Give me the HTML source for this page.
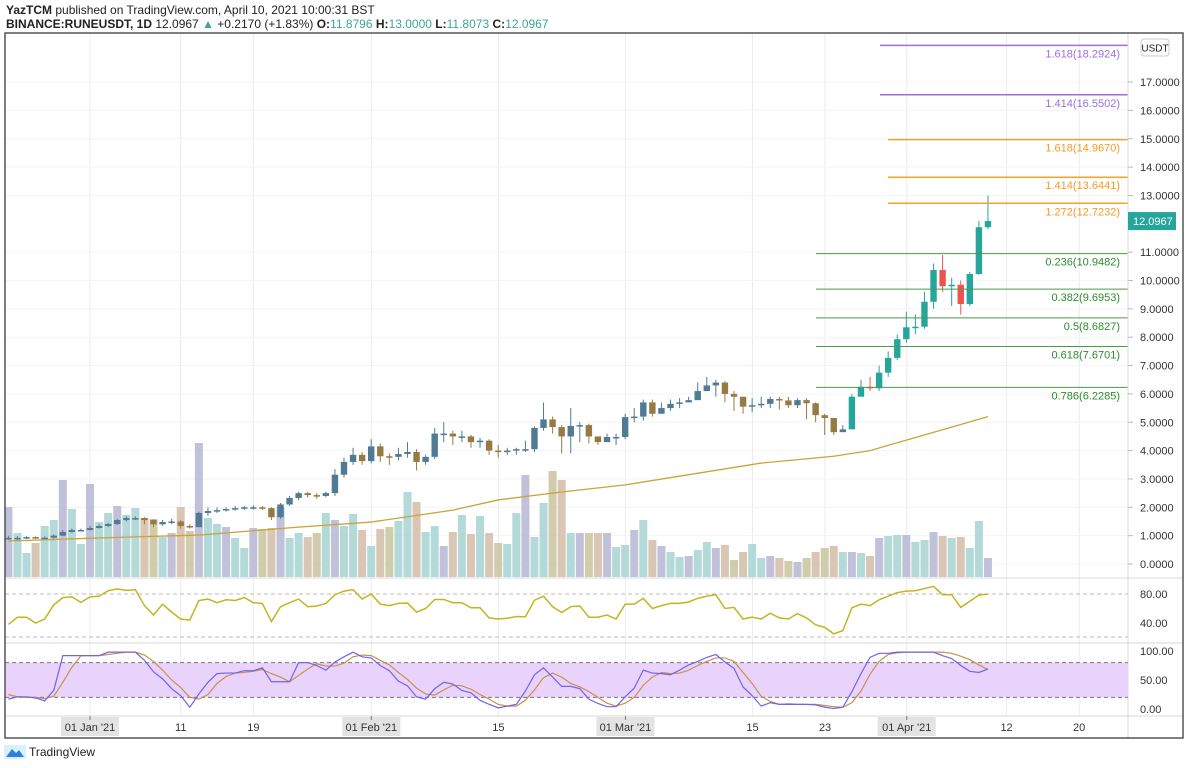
<!DOCTYPE html>
<html><head><meta charset="utf-8">
<style>
body{margin:0;width:1186px;height:768px;background:#fff;overflow:hidden;font-family:"Liberation Sans",sans-serif;}
#hdr1{position:absolute;left:6px;top:3px;font-size:12px;color:#222;}
#hdr2{position:absolute;left:6px;top:17px;font-size:12px;color:#222;}
.v{color:#3fa597}
#foot{position:absolute;left:4px;top:745px;font-size:12px;color:#222;display:flex;align-items:center;}
svg{position:absolute;left:0;top:0;}
</style></head><body>
<div id="hdr1"><b>YazTCM</b> published on TradingView.com, April 10, 2021 10:00:31 BST</div>
<div id="hdr2"><b>BINANCE:RUNEUSDT, 1D</b> 12.0967 <span class="v">▲</span> +0.2170 (+1.83%) <b>O:</b><span class="v">11.8796</span> <b>H:</b><span class="v">13.0000</span> <b>L:</b><span class="v">11.8073</span> <b>C:</b><span class="v">12.0967</span></div>
<svg id="chart" width="1186" height="768"></svg>
<div id="foot"><svg width="22" height="14" style="position:static;margin-right:3px" viewBox="0 0 22 14"><rect x="0" y="0" width="22" height="14" fill="#d9f1fb"/><path d="M2 12 L8 4 L12 8 L15 5 L20 12 Z" fill="#2f7ee0"/></svg>TradingView</div>
<script>
const closes=[0.92,0.92,0.95,0.93,0.93,1.0,1.13,1.2,1.2,1.27,
1.34,1.41,1.55,1.62,1.62,1.55,1.4,1.48,1.5,1.34,
1.3,1.8,1.87,1.9,1.94,1.97,2.0,2.0,1.97,1.65,
2.1,2.33,2.5,2.43,2.4,2.5,3.15,3.6,3.85,3.63,
4.15,3.8,3.78,3.88,3.95,3.6,3.78,4.6,4.6,4.5,
4.5,4.3,4.35,4.0,3.95,4.0,4.05,4.05,4.8,5.1,
4.83,4.5,4.87,4.9,4.5,4.3,
4.48,4.48,5.18,5.2,5.7,5.3,5.5,5.65,5.7,5.78,
6.1,6.3,6.4,6.0,5.9,5.55,5.6,5.65,5.82,5.77,
5.6,5.78,5.67,5.25,5.15,4.65,4.75,5.9,6.25,6.2,
6.75,7.27,7.93,8.35,8.37,9.25,10.37,9.8,9.85,9.17,
10.23,11.8796,12.0967];
const highs=[1.0,0.98,0.98,0.97,0.97,1.05,1.2,1.25,1.25,1.35,
1.4,1.45,1.6,1.68,1.68,1.65,1.58,1.55,1.6,1.55,
1.4,1.85,2.0,2.0,2.0,2.05,2.05,2.07,2.05,2.0,
2.15,2.4,2.55,2.55,2.5,2.55,3.35,3.75,4.1,3.95,
4.4,4.25,3.9,4.1,4.3,4.05,3.85,4.8,5.0,4.7,
4.7,4.55,4.45,4.4,4.2,4.1,4.1,4.35,4.85,5.7,
5.2,4.9,5.5,5.0,4.95,4.5,
4.6,4.6,5.3,5.5,5.8,5.8,5.7,5.8,5.85,5.9,
6.4,6.6,6.5,6.45,6.1,5.85,5.85,5.9,5.9,5.9,
5.9,5.85,5.85,5.7,5.3,5.0,4.9,6.0,6.5,6.6,
7.0,7.5,8.1,8.9,8.8,9.6,10.6,10.9,10.1,10.0,
10.3,12.1,13.0];
const lows=[0.85,0.85,0.88,0.88,0.88,0.9,0.98,1.1,1.15,1.18,
1.25,1.3,1.38,1.5,1.55,1.4,1.3,1.35,1.4,1.25,
1.25,1.3,1.7,1.8,1.85,1.88,1.9,1.92,1.9,1.55,
1.6,2.05,2.25,2.35,2.3,2.35,2.4,3.05,3.5,3.5,
3.55,3.6,3.5,3.65,3.75,3.3,3.5,3.7,4.3,4.2,
4.3,4.1,4.1,3.85,3.75,3.85,3.85,3.95,3.95,4.7,
4.6,3.9,3.9,4.3,4.25,4.2,
4.3,4.2,4.4,5.0,5.05,5.2,5.3,5.4,5.5,5.7,
5.9,6.1,5.9,5.7,5.4,5.3,5.35,5.5,5.5,5.45,
5.5,5.5,5.1,5.0,4.55,4.55,4.7,5.7,6.0,6.1,
6.1,6.6,7.2,7.8,8.1,8.3,9.0,9.6,9.1,8.8,
9.1,10.2,11.8];
const volumes=[70,44,24,34,51,57,97,68,33,93,
55,64,71,62,69,59,58,40,44,70,
46,134,59,53,50,39,29,49,48,49,
70,39,44,40,44,64,57,51,63,47,
31,48,50,56,85,75,45,51,31,45,
62,43,61,44,34,33,64,102,40,74,
106,97,44,44,44,
44,44,30,32,47,57,37,31,25,20,
21,27,35,29,32,17,25,33,19,21,
19,16,15,19,25,29,31,25,25,24,
21,39,41,42,42,35,37,45,41,39,
40,29,56,19];
const maIdx=[0,10,21,32,40,49,54,61,68,83,91,95,99,104,108];
const maVal=[0.81,0.92,1.02,1.3,1.48,1.9,2.26,2.54,2.79,3.56,3.8,4.0,4.37,4.83,5.2];
const rsi=[38,48,48,40,45.5,65,75,76,68.5,76,
77,84.5,87,85,86,64,51,66,55,45.5,
44,71,73,68,72,71,75,68,67,42,
62.5,68,73,62.5,63.5,67,79,84,86,73,
80,66,64,67,67.5,55,60,72.5,72.5,68,
68,61,61,47,45.5,46.5,49,48.5,71.5,77,
62.5,54.5,62.5,63.5,48,48,51,45.5,66,66,
74,60,64,67,67,69,74,77,79,60,
61.5,45.5,48,45.5,53.5,47,45.5,53,47,37.5,
34,25,29.5,61,66,64,72,77,82,84,
84.5,87.5,90.5,79,79,61.5,70,78.5,80];
const stochK=[17,21,21,19,14,32,92,92,92,92,
92,98,98,98,98,84,64,52,35,23,
3,26,46,61,62,62,66,66,71,47,
47,47,80,80,75,67,81,90,98,90,
88,75,66,48,40,21,17,35,46,43,
32,28,15,8,2,5,8,31,59,71,
55,39,39,35,17,9.5,4,4,21,36,
67,62,61,59,67,76,82,89,94,81,
70,38,23,5,11,8,8,8,8,7,
3,1,3,30,61,89,96,96,98,98,
98,98,98,92,87,75,65,63,69];
const stochD=[25,21,20,20,18,22,46,72,92,92,
92,94,96,98,98,93,82,67,50,37,
20,17,25,44,56,62,63,65,68,61,
55,47,58,69,78,74,74,79,90,93,
92,84,76,63,51,36,26,24,33,41,
40,34,25,17,8,5,5,15,33,54,
62,55,44,38,30,20,10,5,10,20,
41,55,63,61,62,67,75,82,88,88,
82,63,44,22,13,8,9,8,8,8,
6,4,3,11,31,60,82,94,97,98,
98,98,98,98,96,91,85,76,68];
const priceTicks=[17,16,15,14,13,11,10,9,8,7,6,5,4,3,2,1,0];
const fibLevels=[18.2924,16.5502,14.9670,13.6441,12.7232,10.9482,9.6953,8.6827,7.6701,6.2285];
const fibRatios=["1.618","1.414","1.618","1.414","1.272","0.236","0.382","0.5","0.618","0.786"];
const fibGroup=["p","p","o","o","o","g","g","g","g","g"];
const dateLabels=["01 Jan '21","11","19","01 Feb '21","15","01 Mar '21","15","23","01 Apr '21","12","20"];
const dateDays=[0,10,18,31,45,59,73,81,90,101,109];
const dateBoxed=[1,0,0,1,0,1,0,0,1,0,0];
const rsiTicks=[80,40];
const stochTicks=[100,50,0];

const svg=document.getElementById('chart');
const NS='http://www.w3.org/2000/svg';
function mk(tag,attrs,parent){const e=document.createElementNS(NS,tag);for(const k in attrs)e.setAttribute(k,attrs[k]);(parent||svg).appendChild(e);return e;}
const L=5,R=1128,FR=1183,T=33,B=738;
const xIdx=i=>8.4+i*9.07;
const xDay=d=>90+d*9.075;
const yP=v=>564-v*28.35;
const yV=v=>577-v*1.0;
const yR=v=>594+(80-v)*0.725;
const yS=v=>709-v*0.58;

for(let j=0;j<dateDays.length;j++){const g=mk('line',{x1:xDay(dateDays[j]),x2:xDay(dateDays[j]),y1:T,y2:716,stroke:'#ececec','stroke-width':1});

}
for(const t of priceTicks){const g=mk('line',{x1:L,x2:R,y1:yP(t),y2:yP(t),stroke:'#f4f4f4','stroke-width':1});

}

for(let i=0;i<volumes.length;i++){const up=i===0||closes[i]>=closes[i-1];
const r=mk('rect',{x:xIdx(i)-4,y:yV(volumes[i]),width:8,height:volumes[i],fill:up?(i%3===0?'#b7b6d3':'#a6d4d2'):(i%2?'#d4bca7':'#c9c39c'),'fill-opacity':0.85});

}

let d='';
for(let k=0;k<maIdx.length;k++)d+=(k?'L':'M')+xIdx(maIdx[k])+' '+yP(maVal[k]);
const ma=mk('path',{d:d,fill:'none',stroke:'#c9a43a','stroke-width':1.3});



for(let i=0;i<closes.length;i++){const o=i===0?closes[0]-0.01:closes[i-1],c=closes[i];const up=c>=o;const bright=i>=93;
const col=bright?(up?'#26a69a':'#ef5350'):(up?'#4f7b95':'#957a42');
const w=mk('line',{x1:xIdx(i),x2:xIdx(i),y1:yP(highs[i]),y2:yP(lows[i]),stroke:col,'stroke-width':1});


const top=yP(Math.max(o,c)),h=Math.max(1.5,Math.abs(yP(o)-yP(c)));
const b=mk('rect',{x:xIdx(i)-3.2,y:top,width:6.4,height:h,fill:col});

}

const fcol={p:'#9c6fdc',o:'#f7a126',g:'#4a9a4a'},fstart={p:880,o:888,g:816},ftxt={p:'#9c6fdc',o:'#f59a23',g:'#2e8b2e'};
for(let k=0;k<fibLevels.length;k++){const y=yP(fibLevels[k]),gp=fibGroup[k];
const ln=mk('line',{x1:fstart[gp],x2:R,y1:y,y2:y,stroke:fcol[gp],'stroke-width':gp==='g'?1:1.5});


const t=mk('text',{x:1120,y:y+12,'text-anchor':'end','font-size':11,fill:ftxt[gp]});
t.textContent=fibRatios[k]+'('+fibLevels[k].toFixed(4)+')';

}

for(const y of [578,643,716]){const s=mk('line',{x1:L,x2:FR,y1:y,y2:y,stroke:'#d8d8d8','stroke-width':1});

}
const ax=mk('line',{x1:R,x2:R,y1:T,y2:B,stroke:'#d8d8d8','stroke-width':1});



for(const t of priceTicks){const tx=mk('text',{x:1140,y:yP(t)+4,'font-size':11,fill:'#333'});tx.textContent=t.toFixed(4);


const tk=mk('line',{x1:R,x2:R+5,y1:yP(t),y2:yP(t),stroke:'#bbb'});

}
const ub=mk('rect',{x:1141,y:39,width:28,height:17,rx:3,fill:'#fff',stroke:'#ccc'});


const ut=mk('text',{x:1155,y:51.5,'text-anchor':'middle','font-size':10,fill:'#222'});ut.textContent='USDT';


const last=closes[closes.length-1];
const pb=mk('rect',{x:R,y:yP(last)-9,width:48,height:18,fill:'#26a69a'});


const pt=mk('text',{x:R+5,y:yP(last)+4,'font-size':11,fill:'#fff'});pt.textContent=last.toFixed(4);



for(const y of [594,637]){const l=mk('line',{x1:L,x2:R,y1:y,y2:y,stroke:'#bbb','stroke-dasharray':'4 3'});

}
d='';for(let i=0;i<rsi.length;i++)d+=(i?'L':'M')+xIdx(i)+' '+yR(rsi[i]);
const rl=mk('path',{d:d,fill:'none',stroke:'#c4b41f','stroke-width':1.5});


for(const t of rsiTicks){const tx=mk('text',{x:1140,y:yR(t)+4,'font-size':11,fill:'#333'});tx.textContent=t.toFixed(2);

}

const band=mk('rect',{x:L,y:yS(80),width:R-L,height:yS(20)-yS(80),fill:'#e9d3fc'});


for(const v of [80,20]){const l=mk('line',{x1:L,x2:R,y1:yS(v),y2:yS(v),stroke:'#777','stroke-dasharray':'4 3'});

}
d='';for(let i=0;i<stochD.length;i++)d+=(i?'L':'M')+xIdx(i)+' '+yS(stochD[i]);
const sd=mk('path',{d:d,fill:'none',stroke:'#c8914a','stroke-width':1.2});


d='';for(let i=0;i<stochK.length;i++)d+=(i?'L':'M')+xIdx(i)+' '+yS(stochK[i]);
const sk=mk('path',{d:d,fill:'none',stroke:'#6f63f0','stroke-width':1.2});


for(const t of stochTicks){const tx=mk('text',{x:1140,y:yS(t)+4,'font-size':11,fill:'#333'});tx.textContent=t.toFixed(2);

}

for(let j=0;j<dateLabels.length;j++){const x=xDay(dateDays[j]);
if(dateBoxed[j]){const bx=mk('rect',{x:x-29,y:717,width:58,height:19,fill:'#e3e3e3'});


const tk=mk('line',{x1:x,x2:x,y1:716,y2:720,stroke:'#777'});

}
const tx=mk('text',{x:x,y:731,'text-anchor':'middle','font-size':11,fill:'#333'});tx.textContent=dateLabels[j];

}

const fr=mk('rect',{x:L,y:T,width:FR-L,height:B-T,fill:'none',stroke:'#555','stroke-width':1.5});


</script>
</body></html>
